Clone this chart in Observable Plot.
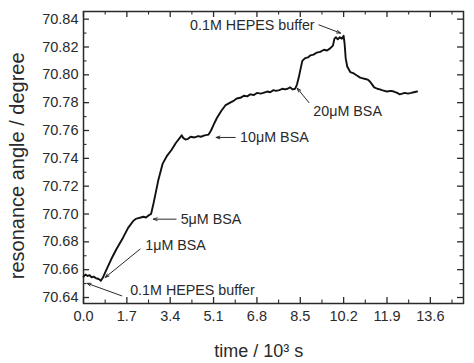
<!DOCTYPE html>
<html>
<head>
<meta charset="utf-8">
<script src="https://cdn.jsdelivr.net/npm/d3@7"></script>
<script src="https://cdn.jsdelivr.net/npm/@observablehq/plot@0.6"></script>
<style>
  html, body { margin: 0; padding: 0; background: #fff; }
  svg { font-family: "Liberation Sans", Arial, sans-serif; }
</style>
</head>
<body>
<div id="chart"></div>
<script>
// time (10^3 s)
const time = [0.00, 0.08, 0.16, 0.24, 0.32, 0.40, 0.48, 0.56, 0.62, 0.68, 0.75, 0.90, 1.10, 1.30, 1.55, 1.75, 1.95, 2.05, 2.15, 2.25, 2.35, 2.45, 2.55, 2.65, 2.75, 2.93, 3.10, 3.28, 3.45, 3.62, 3.79, 3.85, 3.92, 4.00, 4.10, 4.20, 4.35, 4.50, 4.60, 4.75, 4.90, 5.00, 5.10, 5.23, 5.40, 5.56, 5.75, 5.90, 6.01, 6.15, 6.30, 6.42, 6.54, 6.68, 6.80, 6.95, 7.05, 7.20, 7.32, 7.45, 7.55, 7.68, 7.80, 7.90, 8.00, 8.10, 8.20, 8.30, 8.37, 8.44, 8.52, 8.58, 8.69, 8.80, 8.90, 9.02, 9.15, 9.28, 9.43, 9.55, 9.67, 9.78, 9.84, 9.90, 9.97, 10.05, 10.13, 10.20, 10.24, 10.28, 10.34, 10.46, 10.60, 10.72, 10.85, 10.95, 11.05, 11.15, 11.24, 11.32, 11.40, 11.52, 11.62, 11.70, 11.80, 11.90, 12.05, 12.17, 12.30, 12.40, 12.50, 12.60, 12.72, 12.85, 12.95, 13.08];
// resonance angle (degree)
const angle = [70.655, 70.6565, 70.6555, 70.656, 70.6545, 70.655, 70.654, 70.6535, 70.653, 70.652, 70.654, 70.660, 70.668, 70.675, 70.683, 70.690, 70.695, 70.6965, 70.697, 70.6975, 70.698, 70.6975, 70.699, 70.700, 70.708, 70.724, 70.736, 70.742, 70.746, 70.751, 70.755, 70.7565, 70.7545, 70.7535, 70.754, 70.7555, 70.755, 70.756, 70.7555, 70.7565, 70.757, 70.760, 70.764, 70.769, 70.774, 70.778, 70.780, 70.7815, 70.783, 70.7835, 70.785, 70.7845, 70.786, 70.7855, 70.787, 70.7865, 70.787, 70.788, 70.7875, 70.789, 70.7885, 70.789, 70.790, 70.7895, 70.790, 70.791, 70.7895, 70.790, 70.793, 70.798, 70.805, 70.810, 70.812, 70.8125, 70.814, 70.8145, 70.816, 70.8165, 70.818, 70.8175, 70.819, 70.821, 70.826, 70.827, 70.8255, 70.827, 70.826, 70.828, 70.822, 70.812, 70.806, 70.802, 70.801, 70.7995, 70.798, 70.7975, 70.797, 70.7965, 70.795, 70.793, 70.791, 70.790, 70.7895, 70.789, 70.7885, 70.788, 70.7885, 70.788, 70.787, 70.786, 70.7865, 70.787, 70.7865, 70.787, 70.7875, 70.788];

const xTicks = [0.0, 1.7, 3.4, 5.1, 6.8, 8.5, 10.2, 11.9, 13.6];
const xMinor = [0.85, 2.55, 4.25, 5.95, 7.65, 9.35, 11.05, 12.75, 14.45];
const yTicks = [70.64, 70.66, 70.68, 70.70, 70.72, 70.74, 70.76, 70.78, 70.80, 70.82, 70.84];
const yMinor = [70.65, 70.67, 70.69, 70.71, 70.73, 70.75, 70.77, 70.79, 70.81, 70.83];

// annotations
const noteText = ["0.1M HEPES buffer", "20\u03BCM BSA", "10\u03BCM BSA", "5\u03BCM BSA", "1\u03BCM BSA", "0.1M HEPES buffer"];
const noteX = [4.18, 9.01, 6.14, 3.81, 2.42, 1.83];
const noteY = [70.8352, 70.774, 70.755, 70.6963, 70.6771, 70.6448];
const arrowX1 = [9.23, 8.84, 5.95, 3.63, 2.22, 1.50];
const arrowY1 = [70.8359, 70.780, 70.755, 70.6963, 70.6748, 70.6412];
const arrowX2 = [10.08, 8.38, 5.20, 2.74, 0.85, 0.14];
const arrowY2 = [70.830, 70.7904, 70.755, 70.6963, 70.6544, 70.6502];

const xLabel = "time / 10\u00B3 s";
const yLabel = "resonance angle / degree";
const xLabelPos = [6.87, 70.6017];
const yLabelPos = [-2.57, 70.7346];

const series = time.map((t, i) => ({t, a: angle[i]}));
const notes = noteText.map((s, i) => ({s, x: noteX[i], y: noteY[i]}));
const arrows = arrowX1.map((x1, i) => ({x1, y1: arrowY1[i], x2: arrowX2[i], y2: arrowY2[i]}));

const W = 474, H = 363, mL = 83, mR = 11, mT = 11, mB = 60;
const pw = W - mL - mR, ph = H - mT - mB;
const ink = "#2a2a2a";

const chart = Plot.plot({
  width: W, height: H,
  marginLeft: mL, marginRight: mR, marginTop: mT, marginBottom: mB,
  style: {fontFamily: "Liberation Sans, Arial, sans-serif", background: "#fff", color: ink},
  x: {domain: [0, 14.9]},
  y: {domain: [70.6357, 70.8455]},
  marks: [
    Plot.axisX({ticks: xTicks, tickSize: 0, tickPadding: 7, fontSize: 14.5, tickFormat: d => d.toFixed(1), label: null}),
    Plot.axisY({ticks: yTicks, tickSize: 0, tickPadding: 5, fontSize: 14.5, tickFormat: d => d.toFixed(2), label: null}),
    // inward ticks on all four sides
    Plot.tickX(xTicks, {x: d => d, insetTop: ph - 6, stroke: ink, strokeWidth: 1.3}),
    Plot.tickX(xMinor, {x: d => d, insetTop: ph - 3.5, stroke: ink, strokeWidth: 1.1}),
    Plot.tickX(xTicks, {x: d => d, insetBottom: ph - 6, stroke: ink, strokeWidth: 1.3}),
    Plot.tickX(xMinor, {x: d => d, insetBottom: ph - 3.5, stroke: ink, strokeWidth: 1.1}),
    Plot.tickY(yTicks, {y: d => d, insetRight: pw - 6, stroke: ink, strokeWidth: 1.3}),
    Plot.tickY(yMinor, {y: d => d, insetRight: pw - 3.5, stroke: ink, strokeWidth: 1.1}),
    Plot.tickY(yTicks, {y: d => d, insetLeft: pw - 6, stroke: ink, strokeWidth: 1.3}),
    Plot.tickY(yMinor, {y: d => d, insetLeft: pw - 3.5, stroke: ink, strokeWidth: 1.1}),
    Plot.frame({stroke: ink, strokeWidth: 1.5}),
    Plot.line(series, {x: "t", y: "a", stroke: "#111", strokeWidth: 1.9, strokeLinejoin: "round"}),
    Plot.arrow(arrows, {x1: "x1", y1: "y1", x2: "x2", y2: "y2", stroke: ink, strokeWidth: 1, headLength: 6, headAngle: 40}),
    Plot.text(notes, {x: "x", y: "y", text: "s", textAnchor: "start", fontSize: 14.3, fill: ink}),
    Plot.text([xLabel], {text: d => d, x: () => xLabelPos[0], y: () => xLabelPos[1], fontSize: 18, fill: ink}),
    Plot.text([yLabel], {text: d => d, x: () => yLabelPos[0], y: () => yLabelPos[1], rotate: -90, fontSize: 20, fill: ink})
  ]
});
document.getElementById("chart").appendChild(chart);
</script>
</body>
</html>
